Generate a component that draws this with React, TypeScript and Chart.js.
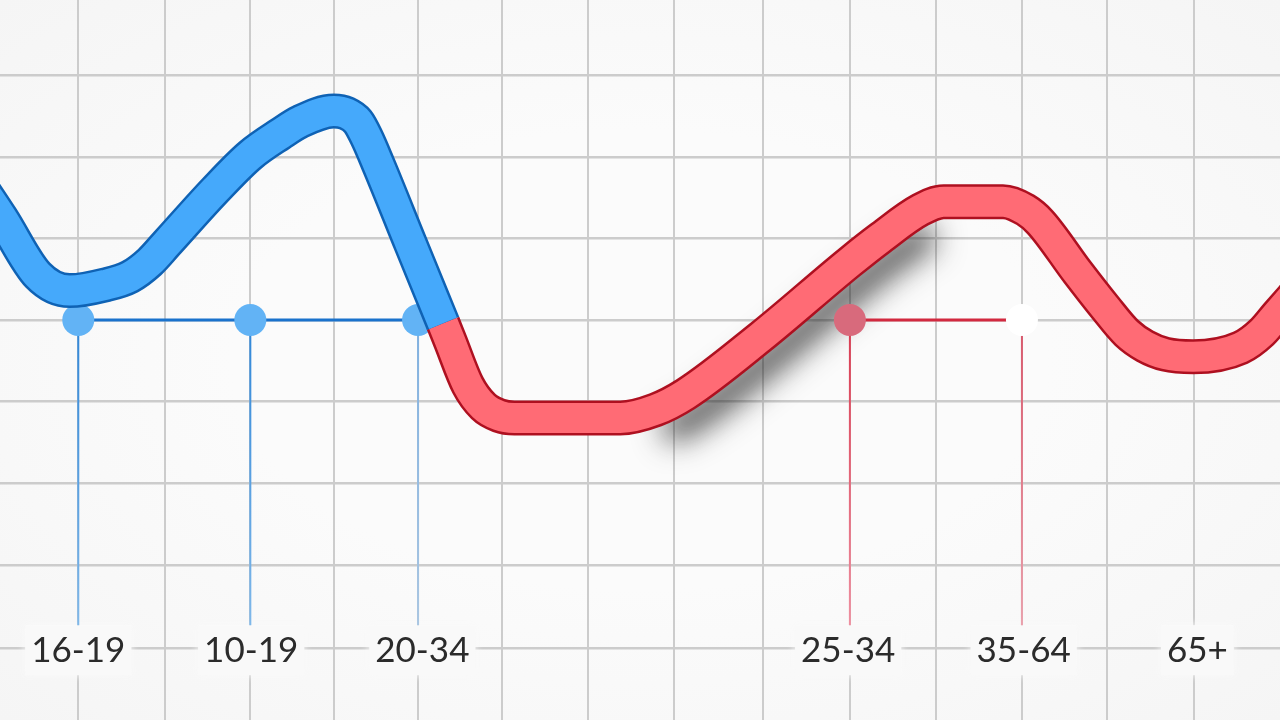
import { useEffect, useRef } from "react";
import { Chart, registerables } from "chart.js";

Chart.register(...registerables);

// axis units: one grid cell in each direction, y = 0 is the baseline
const gridColumns = [0.91, 1.92, 2.91, 3.88, 4.86, 5.84, 6.83, 7.83, 8.87, 9.88, 10.88, 11.88, 12.87, 13.88];
const gridRows = [3, 1.99, 1, 0, -1, -2, -3, -4.02];

const groupLabels = ["16-19", "10-19", "20-34", "25-34", "35-64", "65+"];
const groupPositions = [0.91, 2.91, 4.86, 9.88, 11.88, 13.88];
const labelPositions = [0.91, 2.92, 4.91, 9.86, 11.9, 13.92];
const blueGroups = [0, 1, 2];
const redGroups = [3, 4];

const blueX = [-0.2, 0.02, 0.44, 0.81, 1.22, 1.51, 1.74, 1.94, 2.5, 2.91, 3.26, 3.49, 3.88, 4.03, 4.16, 4.26, 4.4, 4.77, 5.15];
const blueY = [1.6, 1.25, 0.55, 0.36, 0.43, 0.53, 0.71, 0.94, 1.59, 2.02, 2.28, 2.43, 2.56, 2.53, 2.43, 2.24, 1.9, 0.94, -0.04];

const redX = [5.15, 5.23, 5.44, 5.62, 5.8, 5.98, 7.21, 7.62, 7.97, 8.84, 9.88, 10.23, 10.7, 10.97, 11.66, 11.92, 12.09, 12.53, 12.85, 13.1, 13.31, 13.55, 13.87, 14.42, 14.67, 14.85, 15.1];
const redY = [-0.04, -0.25, -0.8, -1.06, -1.17, -1.2, -1.2, -1.1, -0.91, -0.21, 0.71, 1, 1.35, 1.45, 1.45, 1.35, 1.2, 0.58, 0.15, -0.16, -0.32, -0.42, -0.45, -0.34, -0.15, 0.07, 0.37];

const dropEnd = -3.74;

const toPoints = (xs: number[], ys: number[]) => xs.map((x, i) => ({ x, y: ys[i] }));

const curve = (data: { x: number; y: number }[], color: string, width: number, label = "") => ({
  label,
  data,
  borderColor: color,
  borderWidth: width,
  pointRadius: 0,
  cubicInterpolationMode: "monotone" as const,
  borderCapStyle: "butt" as const,
  borderJoinStyle: "round" as const,
  fill: false,
});

const fadeLine = (top: string, bottom: string) => (c: any) => {
  const area = c.chart.chartArea;
  if (!area) return top;
  const y = c.chart.scales.y;
  const g = c.chart.ctx.createLinearGradient(0, y.getPixelForValue(0), 0, y.getPixelForValue(dropEnd));
  g.addColorStop(0, top);
  g.addColorStop(1, bottom);
  return g;
};

const dropLine = (i: number, top: string, bottom: string) => ({
  label: "",
  data: [
    { x: groupPositions[i], y: 0 },
    { x: groupPositions[i], y: dropEnd },
  ],
  borderColor: fadeLine(top, bottom),
  borderWidth: 2,
  pointRadius: 0,
  fill: false,
});

const groupLabelsPlugin = {
  id: "groupLabels",
  beforeDatasetsDraw(chart: any) {
    const { ctx, scales } = chart;
    const py = scales.y.getPixelForValue(-4.02);
    ctx.save();
    ctx.font = "35px Lato";
    ctx.textAlign = "center";
    ctx.textBaseline = "middle";
    groupLabels.forEach((text, i) => {
      const px = scales.x.getPixelForValue(labelPositions[i]);
      const w = ctx.measureText(text).width + 12;
      ctx.save();
      ctx.shadowColor = "#f9f9f9";
      ctx.shadowBlur = 8;
      ctx.fillStyle = "#f9f9f9";
      ctx.fillRect(px - w / 2, py - 23, w, 50);
      ctx.restore();
      ctx.fillStyle = "#2b2b2b";
      ctx.fillText(text, px, py + 3);
    });
    ctx.restore();
  },
};

const softShadowPlugin = {
  id: "softShadow",
  beforeDatasetDraw(chart: any, args: any) {
    if (chart.data.datasets[args.index].label !== "shadow") return;
    const { ctx } = chart;
    ctx.save();
    ctx.shadowColor = "rgba(20, 20, 20, 0.85)";
    ctx.shadowBlur = 30;
    ctx.shadowOffsetX = 10;
    ctx.shadowOffsetY = 22;
  },
  afterDatasetDraw(chart: any, args: any) {
    if (chart.data.datasets[args.index].label !== "shadow") return;
    chart.ctx.restore();
  },
};

export default function App() {
  const canvasRef = useRef<HTMLCanvasElement>(null);

  useEffect(() => {
    document.body.style.margin = "0";
    if (!canvasRef.current) return;

    const blue = toPoints(blueX, blueY);
    const red = toPoints(redX, redY);
    const shadowed = red.filter((p) => p.x >= 7.62 && p.x <= 10.7);

    const baseline = (groups: number[], line: string, dots: string[]) => ({
      label: "",
      data: groups.map((i) => ({ x: groupPositions[i], y: 0 })),
      borderColor: line,
      borderWidth: 3,
      pointRadius: 16,
      pointBorderWidth: 0,
      pointBackgroundColor: dots,
      fill: false,
    });

    // first dataset is drawn on top
    const chart = new Chart(canvasRef.current, {
      type: "line",
      data: {
        datasets: [
          curve(blue, "#45a9fb", 30),
          curve(blue, "#0f62b4", 35),
          curve(red, "#ff6b75", 30),
          curve(red, "#ae1020", 35),
          baseline(blueGroups, "#1a72cc", ["#62b3f5", "#62b3f5", "#62b3f5"]),
          baseline(redGroups, "#d2293f", ["#d86a7c", "#ffffff"]),
          dropLine(0, "#2f86d8", "#7fb8ea"),
          dropLine(1, "#2f86d8", "#7fb8ea"),
          dropLine(2, "#7fb0e0", "#a9c6e2"),
          dropLine(3, "#d8394f", "#ee8fa0"),
          dropLine(4, "#d8566a", "#eaa0ac"),
          curve(shadowed, "rgba(60, 60, 60, 0.9)", 26, "shadow"),
        ] as any,
      },
      options: {
        animation: false,
        responsive: false,
        parsing: false,
        normalized: true,
        layout: { padding: 0, autoPadding: false },
        plugins: {
          legend: { display: false },
          tooltip: { enabled: false },
        },
        scales: {
          x: {
            type: "linear",
            min: 0,
            max: 14.88,
            afterBuildTicks: (scale: any) => {
              scale.ticks = gridColumns.map((value) => ({ value }));
            },
            grid: { color: "#cccccc", lineWidth: 2, drawTicks: false },
            border: { display: false },
            ticks: { display: false },
          },
          y: {
            type: "linear",
            min: -4.9,
            max: 3.92,
            afterBuildTicks: (scale: any) => {
              scale.ticks = gridRows.map((value) => ({ value }));
            },
            grid: { color: "#cccccc", lineWidth: 2.5, drawTicks: false },
            border: { display: false },
            ticks: { display: false },
          },
        },
      } as any,
      plugins: [groupLabelsPlugin, softShadowPlugin],
    });

    return () => chart.destroy();
  }, []);

  return (
    <div
      style={{
        width: 1280,
        height: 720,
        background: "radial-gradient(ellipse at center, #fbfbfb 45%, #f5f5f5 100%)",
      }}
    >
      <canvas ref={canvasRef} width={1280} height={720} style={{ display: "block" }}></canvas>
    </div>
  );
}
